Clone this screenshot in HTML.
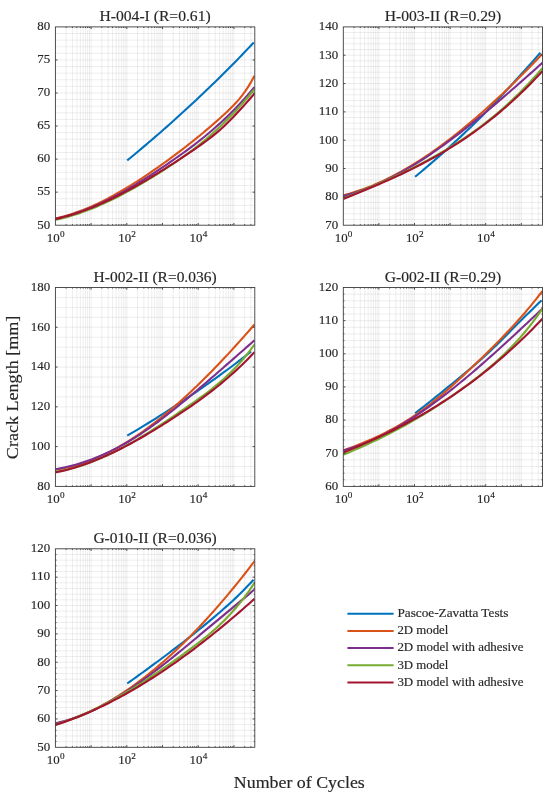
<!DOCTYPE html>
<html lang="en"><head><meta charset="utf-8"><title>Crack Length vs Number of Cycles</title>
<style>html,body{margin:0;padding:0;background:#fff}body{width:550px;height:795px;overflow:hidden}svg{display:block;font-family:'Liberation Serif', 'DejaVu Serif', serif}text{white-space:pre;stroke:#262626;stroke-width:0.16px;paint-order:stroke fill}</style></head><body>
<svg width="550" height="795" viewBox="0 0 550 795" font-family='"Liberation Serif", "DejaVu Serif", serif'>
<rect width="550" height="795" fill="#ffffff"/>
<g>
<rect x="55.4" y="26.9" width="199.4" height="198.3" fill="#ffffff"/>
<path d="M55.4 218.59H254.8M55.4 211.98H254.8M55.4 205.37H254.8M55.4 198.76H254.8M55.4 192.15H254.8M55.4 185.54H254.8M55.4 178.93H254.8M55.4 172.32H254.8M55.4 165.71H254.8M55.4 159.1H254.8M55.4 152.49H254.8M55.4 145.88H254.8M55.4 139.27H254.8M55.4 132.66H254.8M55.4 126.05H254.8M55.4 119.44H254.8M55.4 112.83H254.8M55.4 106.22H254.8M55.4 99.61H254.8M55.4 93H254.8M55.4 86.39H254.8M55.4 79.78H254.8M55.4 73.17H254.8M55.4 66.56H254.8M55.4 59.95H254.8M55.4 53.34H254.8M55.4 46.73H254.8M55.4 40.12H254.8M55.4 33.51H254.8" stroke="#202020" stroke-opacity="0.125" stroke-width="0.65" fill="none"/>
<path d="M66.15 26.9V225.2M72.43 26.9V225.2M76.89 26.9V225.2M80.35 26.9V225.2M83.18 26.9V225.2M85.57 26.9V225.2M87.64 26.9V225.2M89.47 26.9V225.2M91.1 26.9V225.2M101.85 26.9V225.2M108.13 26.9V225.2M112.59 26.9V225.2M116.05 26.9V225.2M118.88 26.9V225.2M121.27 26.9V225.2M123.34 26.9V225.2M125.17 26.9V225.2M126.8 26.9V225.2M137.55 26.9V225.2M143.83 26.9V225.2M148.29 26.9V225.2M151.75 26.9V225.2M154.58 26.9V225.2M156.97 26.9V225.2M159.04 26.9V225.2M160.87 26.9V225.2M162.5 26.9V225.2M173.25 26.9V225.2M179.53 26.9V225.2M183.99 26.9V225.2M187.45 26.9V225.2M190.28 26.9V225.2M192.67 26.9V225.2M194.74 26.9V225.2M196.57 26.9V225.2M198.2 26.9V225.2M208.95 26.9V225.2M215.23 26.9V225.2M219.69 26.9V225.2M223.15 26.9V225.2M225.98 26.9V225.2M228.37 26.9V225.2M230.44 26.9V225.2M232.27 26.9V225.2M233.9 26.9V225.2M244.65 26.9V225.2M250.93 26.9V225.2" stroke="#202020" stroke-opacity="0.125" stroke-width="0.65" fill="none"/>
<clipPath id="c1"><rect x="55.4" y="26.9" width="199.4" height="198.3"/></clipPath>
<g clip-path="url(#c1)" fill="none" stroke-width="2.1" stroke-linejoin="round" stroke-linecap="butt">
<path d="M127.2 160.42L130.21 157.95L133.23 155.47L136.24 152.97L139.25 150.45L142.27 147.91L145.28 145.37L148.29 142.81L151.3 140.24L154.32 137.66L157.33 135.06L160.34 132.44L163.36 129.79L166.37 127.13L169.38 124.45L172.4 121.75L175.41 119.04L178.42 116.32L181.43 113.58L184.45 110.82L187.46 108.05L190.47 105.27L193.49 102.47L196.5 99.65L199.51 96.81L202.53 93.96L205.54 91.1L208.55 88.22L211.56 85.33L214.58 82.42L217.59 79.49L220.6 76.54L223.62 73.57L226.63 70.58L229.64 67.57L232.66 64.54L235.67 61.48L238.68 58.39L241.7 55.25L244.71 52.09L247.72 48.89L250.73 45.67L253.75 42.43" stroke="#0072bd"/>
<path d="M55.4 218.46L58.42 217.77L61.43 217.02L64.45 216.2L67.46 215.33L70.48 214.4L73.5 213.41L76.51 212.36L79.53 211.26L82.55 210.11L85.56 208.91L88.58 207.65L91.59 206.34L94.61 204.99L97.63 203.59L100.64 202.14L103.66 200.64L106.67 199.1L109.69 197.52L112.71 195.89L115.72 194.23L118.74 192.52L121.76 190.78L124.77 189L127.79 187.18L130.8 185.33L133.82 183.45L136.84 181.53L139.85 179.58L142.87 177.6L145.88 175.59L148.9 173.56L151.92 171.49L154.93 169.4L157.95 167.29L160.97 165.15L163.98 162.99L167 160.81L170.01 158.61L173.03 156.39L176.05 154.14L179.06 151.86L182.08 149.56L185.09 147.24L188.11 144.89L191.13 142.51L194.14 140.1L197.16 137.66L200.17 135.19L203.19 132.69L206.21 130.16L209.22 127.6L212.24 125L215.26 122.36L218.27 119.7L221.29 116.99L224.3 114.25L227.32 111.46L230.34 108.58L233.35 105.55L236.37 102.32L239.38 98.84L242.4 95.06L245.42 90.92L248.43 86.37L251.45 81.36L254.47 75.84" stroke="#d95319"/>
<path d="M55.4 218.92L58.42 218.25L61.43 217.53L64.45 216.75L67.46 215.92L70.48 215.03L73.5 214.08L76.51 213.09L79.53 212.04L82.55 210.94L85.56 209.79L88.58 208.59L91.59 207.35L94.61 206.06L97.63 204.72L100.64 203.34L103.66 201.92L106.67 200.46L109.69 198.95L112.71 197.41L115.72 195.83L118.74 194.21L121.76 192.56L124.77 190.87L127.79 189.15L130.8 187.4L133.82 185.62L136.84 183.8L139.85 181.96L142.87 180.09L145.88 178.19L148.9 176.27L151.92 174.32L154.93 172.35L157.95 170.36L160.97 168.35L163.98 166.32L167 164.27L170.01 162.2L173.03 160.12L176.05 158.01L179.06 155.89L182.08 153.73L185.09 151.55L188.11 149.34L191.13 147.1L194.14 144.82L197.16 142.49L200.17 140.13L203.19 137.72L206.21 135.27L209.22 132.76L212.24 130.2L215.26 127.58L218.27 124.9L221.29 122.16L224.3 119.36L227.32 116.49L230.34 113.54L233.35 110.53L236.37 107.43L239.38 104.26L242.4 101.01L245.42 97.67L248.43 94.24L251.45 90.72L254.47 87.11" stroke="#7e2f8e"/>
<path d="M55.4 219.74L58.42 219.1L61.43 218.41L64.45 217.66L67.46 216.87L70.48 216.01L73.5 215.11L76.51 214.16L79.53 213.15L82.55 212.11L85.56 211.01L88.58 209.87L91.59 208.68L94.61 207.45L97.63 206.18L100.64 204.87L103.66 203.52L106.67 202.12L109.69 200.7L112.71 199.23L115.72 197.73L118.74 196.2L121.76 194.63L124.77 193.03L127.79 191.4L130.8 189.74L133.82 188.05L136.84 186.33L139.85 184.59L142.87 182.82L145.88 181.03L148.9 179.21L151.92 177.38L154.93 175.52L157.95 173.64L160.97 171.74L163.98 169.82L167 167.87L170.01 165.89L173.03 163.88L176.05 161.83L179.06 159.75L182.08 157.63L185.09 155.47L188.11 153.26L191.13 151.01L194.14 148.72L197.16 146.37L200.17 143.97L203.19 141.51L206.21 139L209.22 136.42L212.24 133.79L215.26 131.09L218.27 128.32L221.29 125.49L224.3 122.58L227.32 119.6L230.34 116.54L233.35 113.4L236.37 110.18L239.38 106.88L242.4 103.49L245.42 100.02L248.43 96.45L251.45 92.79L254.47 89.04" stroke="#77ac30"/>
<path d="M55.4 219.06L58.42 218.37L61.43 217.63L64.45 216.84L67.46 216L70.48 215.12L73.5 214.19L76.51 213.21L79.53 212.19L82.55 211.12L85.56 210.02L88.58 208.87L91.59 207.68L94.61 206.45L97.63 205.18L100.64 203.87L103.66 202.53L106.67 201.15L109.69 199.74L112.71 198.29L115.72 196.81L118.74 195.29L121.76 193.75L124.77 192.17L127.79 190.56L130.8 188.93L133.82 187.27L136.84 185.58L139.85 183.86L142.87 182.12L145.88 180.36L148.9 178.57L151.92 176.76L154.93 174.93L157.95 173.08L160.97 171.21L163.98 169.32L167 167.41L170.01 165.48L173.03 163.54L176.05 161.59L179.06 159.62L182.08 157.63L185.09 155.64L188.11 153.63L191.13 151.61L194.14 149.57L197.16 147.5L200.17 145.38L203.19 143.22L206.21 141L209.22 138.71L212.24 136.34L215.26 133.88L218.27 131.33L221.29 128.68L224.3 125.91L227.32 123.02L230.34 120.03L233.35 116.93L236.37 113.75L239.38 110.5L242.4 107.19L245.42 103.84L248.43 100.44L251.45 97.03L254.47 93.6" stroke="#a2142f"/>
</g>
<rect x="55.4" y="26.9" width="199.4" height="198.3" fill="none" stroke="#3c3c3c" stroke-width="0.9"/>
<path d="M66.15 225.2v-1.1M66.15 26.9v1.1M72.43 225.2v-1.1M72.43 26.9v1.1M76.89 225.2v-1.1M76.89 26.9v1.1M80.35 225.2v-1.1M80.35 26.9v1.1M83.18 225.2v-1.1M83.18 26.9v1.1M85.57 225.2v-1.1M85.57 26.9v1.1M87.64 225.2v-1.1M87.64 26.9v1.1M89.47 225.2v-1.1M89.47 26.9v1.1M91.1 225.2v-2.2M91.1 26.9v2.2M101.85 225.2v-1.1M101.85 26.9v1.1M108.13 225.2v-1.1M108.13 26.9v1.1M112.59 225.2v-1.1M112.59 26.9v1.1M116.05 225.2v-1.1M116.05 26.9v1.1M118.88 225.2v-1.1M118.88 26.9v1.1M121.27 225.2v-1.1M121.27 26.9v1.1M123.34 225.2v-1.1M123.34 26.9v1.1M125.17 225.2v-1.1M125.17 26.9v1.1M126.8 225.2v-2.2M126.8 26.9v2.2M137.55 225.2v-1.1M137.55 26.9v1.1M143.83 225.2v-1.1M143.83 26.9v1.1M148.29 225.2v-1.1M148.29 26.9v1.1M151.75 225.2v-1.1M151.75 26.9v1.1M154.58 225.2v-1.1M154.58 26.9v1.1M156.97 225.2v-1.1M156.97 26.9v1.1M159.04 225.2v-1.1M159.04 26.9v1.1M160.87 225.2v-1.1M160.87 26.9v1.1M162.5 225.2v-2.2M162.5 26.9v2.2M173.25 225.2v-1.1M173.25 26.9v1.1M179.53 225.2v-1.1M179.53 26.9v1.1M183.99 225.2v-1.1M183.99 26.9v1.1M187.45 225.2v-1.1M187.45 26.9v1.1M190.28 225.2v-1.1M190.28 26.9v1.1M192.67 225.2v-1.1M192.67 26.9v1.1M194.74 225.2v-1.1M194.74 26.9v1.1M196.57 225.2v-1.1M196.57 26.9v1.1M198.2 225.2v-2.2M198.2 26.9v2.2M208.95 225.2v-1.1M208.95 26.9v1.1M215.23 225.2v-1.1M215.23 26.9v1.1M219.69 225.2v-1.1M219.69 26.9v1.1M223.15 225.2v-1.1M223.15 26.9v1.1M225.98 225.2v-1.1M225.98 26.9v1.1M228.37 225.2v-1.1M228.37 26.9v1.1M230.44 225.2v-1.1M230.44 26.9v1.1M232.27 225.2v-1.1M232.27 26.9v1.1M233.9 225.2v-2.2M233.9 26.9v2.2M244.65 225.2v-1.1M244.65 26.9v1.1M250.93 225.2v-1.1M250.93 26.9v1.1M55.4 192.15h2.2M254.8 192.15h-2.2M55.4 159.1h2.2M254.8 159.1h-2.2M55.4 126.05h2.2M254.8 126.05h-2.2M55.4 93h2.2M254.8 93h-2.2M55.4 59.95h2.2M254.8 59.95h-2.2" stroke="#3c3c3c" stroke-width="0.9" fill="none"/>
<g font-size="13.3" fill="#262626">
<text x="50.2" y="228.5" text-anchor="end" textLength="12.9" lengthAdjust="spacingAndGlyphs">50</text>
<text x="50.2" y="195.45" text-anchor="end" textLength="12.9" lengthAdjust="spacingAndGlyphs">55</text>
<text x="50.2" y="162.4" text-anchor="end" textLength="12.9" lengthAdjust="spacingAndGlyphs">60</text>
<text x="50.2" y="129.35" text-anchor="end" textLength="12.9" lengthAdjust="spacingAndGlyphs">65</text>
<text x="50.2" y="96.3" text-anchor="end" textLength="12.9" lengthAdjust="spacingAndGlyphs">70</text>
<text x="50.2" y="63.25" text-anchor="end" textLength="12.9" lengthAdjust="spacingAndGlyphs">75</text>
<text x="50.2" y="30.2" text-anchor="end" textLength="12.9" lengthAdjust="spacingAndGlyphs">80</text>
<text x="59.7" y="242.1" text-anchor="end" font-size="13.5" textLength="12.9" lengthAdjust="spacingAndGlyphs">10</text>
<text x="59.9" y="236.6" font-size="9.2">0</text>
<text x="131.1" y="242.1" text-anchor="end" font-size="13.5" textLength="12.9" lengthAdjust="spacingAndGlyphs">10</text>
<text x="131.3" y="236.6" font-size="9.2">2</text>
<text x="202.5" y="242.1" text-anchor="end" font-size="13.5" textLength="12.9" lengthAdjust="spacingAndGlyphs">10</text>
<text x="202.7" y="236.6" font-size="9.2">4</text>
</g>
<text x="155.1" y="21" text-anchor="middle" font-size="15.3" fill="#262626" textLength="111.2" lengthAdjust="spacingAndGlyphs">H-004-I (R=0.61)</text>
</g>
<g>
<rect x="343.3" y="26.9" width="199.2" height="198.3" fill="#ffffff"/>
<path d="M343.3 219.53H542.5M343.3 213.87H542.5M343.3 208.2H542.5M343.3 202.54H542.5M343.3 196.87H542.5M343.3 191.21H542.5M343.3 185.54H542.5M343.3 179.87H542.5M343.3 174.21H542.5M343.3 168.54H542.5M343.3 162.88H542.5M343.3 157.21H542.5M343.3 151.55H542.5M343.3 145.88H542.5M343.3 140.21H542.5M343.3 134.55H542.5M343.3 128.88H542.5M343.3 123.22H542.5M343.3 117.55H542.5M343.3 111.89H542.5M343.3 106.22H542.5M343.3 100.55H542.5M343.3 94.89H542.5M343.3 89.22H542.5M343.3 83.56H542.5M343.3 77.89H542.5M343.3 72.23H542.5M343.3 66.56H542.5M343.3 60.89H542.5M343.3 55.23H542.5M343.3 49.56H542.5M343.3 43.9H542.5M343.3 38.23H542.5M343.3 32.57H542.5" stroke="#202020" stroke-opacity="0.125" stroke-width="0.65" fill="none"/>
<path d="M354.02 26.9V225.2M360.29 26.9V225.2M364.73 26.9V225.2M368.18 26.9V225.2M371 26.9V225.2M373.39 26.9V225.2M375.45 26.9V225.2M377.27 26.9V225.2M378.9 26.9V225.2M389.62 26.9V225.2M395.89 26.9V225.2M400.33 26.9V225.2M403.78 26.9V225.2M406.6 26.9V225.2M408.99 26.9V225.2M411.05 26.9V225.2M412.87 26.9V225.2M414.5 26.9V225.2M425.22 26.9V225.2M431.49 26.9V225.2M435.93 26.9V225.2M439.38 26.9V225.2M442.2 26.9V225.2M444.59 26.9V225.2M446.65 26.9V225.2M448.47 26.9V225.2M450.1 26.9V225.2M460.82 26.9V225.2M467.09 26.9V225.2M471.53 26.9V225.2M474.98 26.9V225.2M477.8 26.9V225.2M480.19 26.9V225.2M482.25 26.9V225.2M484.07 26.9V225.2M485.7 26.9V225.2M496.42 26.9V225.2M502.69 26.9V225.2M507.13 26.9V225.2M510.58 26.9V225.2M513.4 26.9V225.2M515.79 26.9V225.2M517.85 26.9V225.2M519.67 26.9V225.2M521.3 26.9V225.2M532.02 26.9V225.2M538.29 26.9V225.2" stroke="#202020" stroke-opacity="0.125" stroke-width="0.65" fill="none"/>
<clipPath id="c2"><rect x="343.3" y="26.9" width="199.2" height="198.3"/></clipPath>
<g clip-path="url(#c2)" fill="none" stroke-width="2.1" stroke-linejoin="round" stroke-linecap="butt">
<path d="M415.1 176.76L418.16 174.24L421.21 171.69L424.27 169.12L427.32 166.52L430.38 163.9L433.44 161.26L436.49 158.59L439.55 155.89L442.6 153.18L445.66 150.44L448.71 147.68L451.77 144.89L454.83 142.08L457.88 139.25L460.94 136.39L463.99 133.51L467.05 130.6L470.11 127.66L473.16 124.7L476.22 121.71L479.27 118.69L482.33 115.64L485.39 112.57L488.44 109.47L491.5 106.32L494.55 103.14L497.61 99.92L500.66 96.66L503.72 93.38L506.78 90.08L509.83 86.76L512.89 83.41L515.94 80.06L519 76.7L522.06 73.33L525.11 69.95L528.17 66.54L531.22 63.11L534.28 59.65L537.34 56.17L540.39 52.68" stroke="#0072bd"/>
<path d="M343.3 195.36L346.32 194.56L349.33 193.71L352.35 192.82L355.36 191.87L358.38 190.87L361.4 189.82L364.41 188.72L367.43 187.57L370.45 186.37L373.46 185.13L376.48 183.83L379.49 182.5L382.51 181.11L385.53 179.68L388.54 178.2L391.56 176.68L394.57 175.11L397.59 173.5L400.61 171.85L403.62 170.15L406.64 168.41L409.66 166.63L412.67 164.81L415.69 162.94L418.7 161.04L421.72 159.09L424.74 157.11L427.75 155.09L430.77 153.02L433.78 150.92L436.8 148.78L439.82 146.61L442.83 144.39L445.85 142.15L448.87 139.86L451.88 137.54L454.9 135.19L457.91 132.8L460.93 130.37L463.95 127.92L466.96 125.43L469.98 122.91L472.99 120.35L476.01 117.77L479.03 115.15L482.04 112.51L485.06 109.83L488.07 107.12L491.09 104.39L494.11 101.62L497.12 98.83L500.14 96.01L503.16 93.17L506.17 90.29L509.19 87.4L512.2 84.47L515.22 81.52L518.24 78.55L521.25 75.55L524.27 72.53L527.28 69.48L530.3 66.41L533.32 63.32L536.33 60.21L539.35 57.08L542.37 53.92" stroke="#d95319"/>
<path d="M343.3 195.94L346.32 195.18L349.33 194.36L352.35 193.49L355.36 192.56L358.38 191.58L361.4 190.54L364.41 189.45L367.43 188.31L370.45 187.13L373.46 185.89L376.48 184.6L379.49 183.26L382.51 181.88L385.53 180.45L388.54 178.98L391.56 177.46L394.57 175.89L397.59 174.29L400.61 172.64L403.62 170.95L406.64 169.22L409.66 167.45L412.67 165.64L415.69 163.79L418.7 161.91L421.72 159.99L424.74 158.03L427.75 156.04L430.77 154.01L433.78 151.96L436.8 149.87L439.82 147.74L442.83 145.59L445.85 143.41L448.87 141.2L451.88 138.96L454.9 136.69L457.91 134.4L460.93 132.08L463.95 129.74L466.96 127.38L469.98 124.99L472.99 122.57L476.01 120.14L479.03 117.69L482.04 115.21L485.06 112.72L488.07 110.21L491.09 107.68L494.11 105.14L497.12 102.58L500.14 100.01L503.16 97.42L506.17 94.82L509.19 92.2L512.2 89.58L515.22 86.94L518.24 84.3L521.25 81.64L524.27 78.98L527.28 76.31L530.3 73.63L533.32 70.95L536.33 68.26L539.35 65.57L542.37 62.88" stroke="#7e2f8e"/>
<path d="M343.3 198.36L346.32 197.15L349.33 195.93L352.35 194.72L355.36 193.49L358.38 192.26L361.4 191.02L364.41 189.77L367.43 188.52L370.45 187.25L373.46 185.98L376.48 184.69L379.49 183.38L382.51 182.07L385.53 180.74L388.54 179.4L391.56 178.04L394.57 176.66L397.59 175.26L400.61 173.85L403.62 172.42L406.64 170.97L409.66 169.49L412.67 168L415.69 166.48L418.7 164.94L421.72 163.37L424.74 161.78L427.75 160.16L430.77 158.52L433.78 156.84L436.8 155.14L439.82 153.41L442.83 151.65L445.85 149.86L448.87 148.04L451.88 146.18L454.9 144.29L457.91 142.36L460.93 140.4L463.95 138.4L466.96 136.36L469.98 134.28L472.99 132.15L476.01 129.99L479.03 127.77L482.04 125.51L485.06 123.2L488.07 120.84L491.09 118.43L494.11 115.97L497.12 113.45L500.14 110.87L503.16 108.24L506.17 105.55L509.19 102.8L512.2 99.99L515.22 97.12L518.24 94.18L521.25 91.17L524.27 88.1L527.28 84.96L530.3 81.74L533.32 78.46L536.33 75.1L539.35 71.67L542.37 68.16" stroke="#77ac30"/>
<path d="M343.3 198.92L346.32 197.71L349.33 196.49L352.35 195.27L355.36 194.04L358.38 192.81L361.4 191.57L364.41 190.32L367.43 189.06L370.45 187.8L373.46 186.52L376.48 185.24L379.49 183.94L382.51 182.63L385.53 181.3L388.54 179.96L391.56 178.61L394.57 177.24L397.59 175.85L400.61 174.44L403.62 173.02L406.64 171.57L409.66 170.1L412.67 168.61L415.69 167.1L418.7 165.57L421.72 164L424.74 162.42L427.75 160.81L430.77 159.17L433.78 157.5L436.8 155.8L439.82 154.08L442.83 152.32L445.85 150.53L448.87 148.71L451.88 146.85L454.9 144.96L457.91 143.04L460.93 141.08L463.95 139.08L466.96 137.04L469.98 134.97L472.99 132.85L476.01 130.69L479.03 128.5L482.04 126.26L485.06 123.97L488.07 121.64L491.09 119.27L494.11 116.85L497.12 114.38L500.14 111.87L503.16 109.31L506.17 106.69L509.19 104.03L512.2 101.31L515.22 98.54L518.24 95.72L521.25 92.85L524.27 89.92L527.28 86.93L530.3 83.89L533.32 80.79L536.33 77.63L539.35 74.41L542.37 71.12" stroke="#a2142f"/>
</g>
<rect x="343.3" y="26.9" width="199.2" height="198.3" fill="none" stroke="#3c3c3c" stroke-width="0.9"/>
<path d="M354.02 225.2v-1.1M354.02 26.9v1.1M360.29 225.2v-1.1M360.29 26.9v1.1M364.73 225.2v-1.1M364.73 26.9v1.1M368.18 225.2v-1.1M368.18 26.9v1.1M371 225.2v-1.1M371 26.9v1.1M373.39 225.2v-1.1M373.39 26.9v1.1M375.45 225.2v-1.1M375.45 26.9v1.1M377.27 225.2v-1.1M377.27 26.9v1.1M378.9 225.2v-2.2M378.9 26.9v2.2M389.62 225.2v-1.1M389.62 26.9v1.1M395.89 225.2v-1.1M395.89 26.9v1.1M400.33 225.2v-1.1M400.33 26.9v1.1M403.78 225.2v-1.1M403.78 26.9v1.1M406.6 225.2v-1.1M406.6 26.9v1.1M408.99 225.2v-1.1M408.99 26.9v1.1M411.05 225.2v-1.1M411.05 26.9v1.1M412.87 225.2v-1.1M412.87 26.9v1.1M414.5 225.2v-2.2M414.5 26.9v2.2M425.22 225.2v-1.1M425.22 26.9v1.1M431.49 225.2v-1.1M431.49 26.9v1.1M435.93 225.2v-1.1M435.93 26.9v1.1M439.38 225.2v-1.1M439.38 26.9v1.1M442.2 225.2v-1.1M442.2 26.9v1.1M444.59 225.2v-1.1M444.59 26.9v1.1M446.65 225.2v-1.1M446.65 26.9v1.1M448.47 225.2v-1.1M448.47 26.9v1.1M450.1 225.2v-2.2M450.1 26.9v2.2M460.82 225.2v-1.1M460.82 26.9v1.1M467.09 225.2v-1.1M467.09 26.9v1.1M471.53 225.2v-1.1M471.53 26.9v1.1M474.98 225.2v-1.1M474.98 26.9v1.1M477.8 225.2v-1.1M477.8 26.9v1.1M480.19 225.2v-1.1M480.19 26.9v1.1M482.25 225.2v-1.1M482.25 26.9v1.1M484.07 225.2v-1.1M484.07 26.9v1.1M485.7 225.2v-2.2M485.7 26.9v2.2M496.42 225.2v-1.1M496.42 26.9v1.1M502.69 225.2v-1.1M502.69 26.9v1.1M507.13 225.2v-1.1M507.13 26.9v1.1M510.58 225.2v-1.1M510.58 26.9v1.1M513.4 225.2v-1.1M513.4 26.9v1.1M515.79 225.2v-1.1M515.79 26.9v1.1M517.85 225.2v-1.1M517.85 26.9v1.1M519.67 225.2v-1.1M519.67 26.9v1.1M521.3 225.2v-2.2M521.3 26.9v2.2M532.02 225.2v-1.1M532.02 26.9v1.1M538.29 225.2v-1.1M538.29 26.9v1.1M343.3 196.87h2.2M542.5 196.87h-2.2M343.3 168.54h2.2M542.5 168.54h-2.2M343.3 140.21h2.2M542.5 140.21h-2.2M343.3 111.89h2.2M542.5 111.89h-2.2M343.3 83.56h2.2M542.5 83.56h-2.2M343.3 55.23h2.2M542.5 55.23h-2.2" stroke="#3c3c3c" stroke-width="0.9" fill="none"/>
<g font-size="13.3" fill="#262626">
<text x="338.1" y="228.5" text-anchor="end" textLength="12.9" lengthAdjust="spacingAndGlyphs">70</text>
<text x="338.1" y="200.17" text-anchor="end" textLength="12.9" lengthAdjust="spacingAndGlyphs">80</text>
<text x="338.1" y="171.84" text-anchor="end" textLength="12.9" lengthAdjust="spacingAndGlyphs">90</text>
<text x="338.1" y="143.51" text-anchor="end" textLength="19.35" lengthAdjust="spacingAndGlyphs">100</text>
<text x="338.1" y="115.19" text-anchor="end" textLength="19.35" lengthAdjust="spacingAndGlyphs">110</text>
<text x="338.1" y="86.86" text-anchor="end" textLength="19.35" lengthAdjust="spacingAndGlyphs">120</text>
<text x="338.1" y="58.53" text-anchor="end" textLength="19.35" lengthAdjust="spacingAndGlyphs">130</text>
<text x="338.1" y="30.2" text-anchor="end" textLength="19.35" lengthAdjust="spacingAndGlyphs">140</text>
<text x="347.6" y="242.1" text-anchor="end" font-size="13.5" textLength="12.9" lengthAdjust="spacingAndGlyphs">10</text>
<text x="347.8" y="236.6" font-size="9.2">0</text>
<text x="418.8" y="242.1" text-anchor="end" font-size="13.5" textLength="12.9" lengthAdjust="spacingAndGlyphs">10</text>
<text x="419" y="236.6" font-size="9.2">2</text>
<text x="490" y="242.1" text-anchor="end" font-size="13.5" textLength="12.9" lengthAdjust="spacingAndGlyphs">10</text>
<text x="490.2" y="236.6" font-size="9.2">4</text>
</g>
<text x="442.9" y="21" text-anchor="middle" font-size="15.3" fill="#262626" textLength="116.4" lengthAdjust="spacingAndGlyphs">H-003-II (R=0.29)</text>
</g>
<g>
<rect x="55.4" y="287.5" width="199.4" height="198.9" fill="#ffffff"/>
<path d="M55.4 476.45H254.8M55.4 466.51H254.8M55.4 456.56H254.8M55.4 446.62H254.8M55.4 436.67H254.8M55.4 426.73H254.8M55.4 416.78H254.8M55.4 406.84H254.8M55.4 396.89H254.8M55.4 386.95H254.8M55.4 377H254.8M55.4 367.06H254.8M55.4 357.12H254.8M55.4 347.17H254.8M55.4 337.23H254.8M55.4 327.28H254.8M55.4 317.33H254.8M55.4 307.39H254.8M55.4 297.44H254.8" stroke="#202020" stroke-opacity="0.125" stroke-width="0.65" fill="none"/>
<path d="M66.15 287.5V486.4M72.43 287.5V486.4M76.89 287.5V486.4M80.35 287.5V486.4M83.18 287.5V486.4M85.57 287.5V486.4M87.64 287.5V486.4M89.47 287.5V486.4M91.1 287.5V486.4M101.85 287.5V486.4M108.13 287.5V486.4M112.59 287.5V486.4M116.05 287.5V486.4M118.88 287.5V486.4M121.27 287.5V486.4M123.34 287.5V486.4M125.17 287.5V486.4M126.8 287.5V486.4M137.55 287.5V486.4M143.83 287.5V486.4M148.29 287.5V486.4M151.75 287.5V486.4M154.58 287.5V486.4M156.97 287.5V486.4M159.04 287.5V486.4M160.87 287.5V486.4M162.5 287.5V486.4M173.25 287.5V486.4M179.53 287.5V486.4M183.99 287.5V486.4M187.45 287.5V486.4M190.28 287.5V486.4M192.67 287.5V486.4M194.74 287.5V486.4M196.57 287.5V486.4M198.2 287.5V486.4M208.95 287.5V486.4M215.23 287.5V486.4M219.69 287.5V486.4M223.15 287.5V486.4M225.98 287.5V486.4M228.37 287.5V486.4M230.44 287.5V486.4M232.27 287.5V486.4M233.9 287.5V486.4M244.65 287.5V486.4M250.93 287.5V486.4" stroke="#202020" stroke-opacity="0.125" stroke-width="0.65" fill="none"/>
<clipPath id="c3"><rect x="55.4" y="287.5" width="199.4" height="198.9"/></clipPath>
<g clip-path="url(#c3)" fill="none" stroke-width="2.1" stroke-linejoin="round" stroke-linecap="butt">
<path d="M127.2 435.68L130.22 433.91L133.25 432.13L136.27 430.34L139.29 428.53L142.31 426.71L145.34 424.87L148.36 423.02L151.38 421.16L154.4 419.28L157.43 417.39L160.45 415.48L163.47 413.57L166.49 411.63L169.52 409.69L172.54 407.72L175.56 405.75L178.58 403.75L181.61 401.75L184.63 399.72L187.65 397.69L190.67 395.64L193.7 393.58L196.72 391.51L199.74 389.42L202.77 387.32L205.79 385.21L208.81 383.08L211.83 380.94L214.86 378.78L217.88 376.61L220.9 374.42L223.92 372.22L226.95 370L229.97 367.76L232.99 365.51L236.01 363.24L239.04 360.93L242.06 358.6L245.08 356.23L248.1 353.85L251.13 351.45" stroke="#0072bd"/>
<path d="M55.4 469.65L58.42 469.22L61.43 468.72L64.45 468.15L67.46 467.52L70.48 466.82L73.5 466.05L76.51 465.21L79.53 464.31L82.55 463.34L85.56 462.31L88.58 461.21L91.59 460.06L94.61 458.84L97.63 457.56L100.64 456.22L103.66 454.82L106.67 453.36L109.69 451.84L112.71 450.26L115.72 448.63L118.74 446.94L121.76 445.2L124.77 443.4L127.79 441.54L130.8 439.64L133.82 437.68L136.84 435.67L139.85 433.61L142.87 431.49L145.88 429.33L148.9 427.12L151.92 424.86L154.93 422.56L157.95 420.2L160.97 417.81L163.98 415.36L167 412.87L170.01 410.34L173.03 407.76L176.05 405.15L179.06 402.49L182.08 399.78L185.09 397.04L188.11 394.26L191.13 391.44L194.14 388.59L197.16 385.69L200.17 382.76L203.19 379.79L206.21 376.79L209.22 373.75L212.24 370.68L215.26 367.58L218.27 364.44L221.29 361.28L224.3 358.08L227.32 354.85L230.34 351.59L233.35 348.31L236.37 344.99L239.38 341.65L242.4 338.28L245.42 334.89L248.43 331.47L251.45 328.03L254.47 324.56" stroke="#d95319"/>
<path d="M55.4 469.28L58.42 468.74L61.43 468.15L64.45 467.5L67.46 466.81L70.48 466.06L73.5 465.27L76.51 464.42L79.53 463.51L82.55 462.56L85.56 461.56L88.58 460.5L91.59 459.39L94.61 458.23L97.63 457.02L100.64 455.75L103.66 454.44L106.67 453.06L109.69 451.64L112.71 450.17L115.72 448.64L118.74 447.06L121.76 445.42L124.77 443.74L127.79 442L130.8 440.21L133.82 438.36L136.84 436.46L139.85 434.51L142.87 432.5L145.88 430.45L148.9 428.35L151.92 426.2L154.93 424.01L157.95 421.79L160.97 419.52L163.98 417.22L167 414.89L170.01 412.52L173.03 410.13L176.05 407.71L179.06 405.27L182.08 402.81L185.09 400.33L188.11 397.83L191.13 395.31L194.14 392.77L197.16 390.23L200.17 387.66L203.19 385.09L206.21 382.5L209.22 379.91L212.24 377.3L215.26 374.68L218.27 372.06L221.29 369.43L224.3 366.8L227.32 364.16L230.34 361.52L233.35 358.88L236.37 356.23L239.38 353.57L242.4 350.92L245.42 348.26L248.43 345.59L251.45 342.93L254.47 340.26" stroke="#7e2f8e"/>
<path d="M55.4 471.87L58.42 471.38L61.43 470.82L64.45 470.2L67.46 469.52L70.48 468.77L73.5 467.97L76.51 467.1L79.53 466.18L82.55 465.21L85.56 464.18L88.58 463.09L91.59 461.95L94.61 460.77L97.63 459.53L100.64 458.25L103.66 456.91L106.67 455.54L109.69 454.12L112.71 452.66L115.72 451.15L118.74 449.61L121.76 448.03L124.77 446.41L127.79 444.75L130.8 443.06L133.82 441.34L136.84 439.59L139.85 437.8L142.87 435.99L145.88 434.15L148.9 432.28L151.92 430.39L154.93 428.47L157.95 426.53L160.97 424.57L163.98 422.59L167 420.59L170.01 418.58L173.03 416.55L176.05 414.51L179.06 412.45L182.08 410.38L185.09 408.3L188.11 406.21L191.13 404.12L194.14 402.01L197.16 399.87L200.17 397.71L203.19 395.51L206.21 393.26L209.22 390.97L212.24 388.61L215.26 386.18L218.27 383.68L221.29 381.09L224.3 378.41L227.32 375.64L230.34 372.75L233.35 369.76L236.37 366.63L239.38 363.37L242.4 359.95L245.42 356.37L248.43 352.62L251.45 348.67L254.47 344.52" stroke="#77ac30"/>
<path d="M55.4 472.4L58.42 471.79L61.43 471.13L64.45 470.41L67.46 469.65L70.48 468.83L73.5 467.97L76.51 467.05L79.53 466.09L82.55 465.09L85.56 464.04L88.58 462.94L91.59 461.8L94.61 460.62L97.63 459.4L100.64 458.14L103.66 456.84L106.67 455.49L109.69 454.12L112.71 452.7L115.72 451.25L118.74 449.77L121.76 448.25L124.77 446.69L127.79 445.11L130.8 443.5L133.82 441.85L136.84 440.18L139.85 438.47L142.87 436.75L145.88 434.99L148.9 433.21L151.92 431.4L154.93 429.57L157.95 427.72L160.97 425.85L163.98 423.96L167 422.04L170.01 420.11L173.03 418.16L176.05 416.2L179.06 414.21L182.08 412.21L185.09 410.19L188.11 408.14L191.13 406.06L194.14 403.96L197.16 401.82L200.17 399.65L203.19 397.44L206.21 395.2L209.22 392.92L212.24 390.59L215.26 388.21L218.27 385.79L221.29 383.32L224.3 380.79L227.32 378.21L230.34 375.58L233.35 372.88L236.37 370.12L239.38 367.29L242.4 364.4L245.42 361.44L248.43 358.41L251.45 355.3L254.47 352.11" stroke="#a2142f"/>
</g>
<rect x="55.4" y="287.5" width="199.4" height="198.9" fill="none" stroke="#3c3c3c" stroke-width="0.9"/>
<path d="M66.15 486.4v-1.1M66.15 287.5v1.1M72.43 486.4v-1.1M72.43 287.5v1.1M76.89 486.4v-1.1M76.89 287.5v1.1M80.35 486.4v-1.1M80.35 287.5v1.1M83.18 486.4v-1.1M83.18 287.5v1.1M85.57 486.4v-1.1M85.57 287.5v1.1M87.64 486.4v-1.1M87.64 287.5v1.1M89.47 486.4v-1.1M89.47 287.5v1.1M91.1 486.4v-2.2M91.1 287.5v2.2M101.85 486.4v-1.1M101.85 287.5v1.1M108.13 486.4v-1.1M108.13 287.5v1.1M112.59 486.4v-1.1M112.59 287.5v1.1M116.05 486.4v-1.1M116.05 287.5v1.1M118.88 486.4v-1.1M118.88 287.5v1.1M121.27 486.4v-1.1M121.27 287.5v1.1M123.34 486.4v-1.1M123.34 287.5v1.1M125.17 486.4v-1.1M125.17 287.5v1.1M126.8 486.4v-2.2M126.8 287.5v2.2M137.55 486.4v-1.1M137.55 287.5v1.1M143.83 486.4v-1.1M143.83 287.5v1.1M148.29 486.4v-1.1M148.29 287.5v1.1M151.75 486.4v-1.1M151.75 287.5v1.1M154.58 486.4v-1.1M154.58 287.5v1.1M156.97 486.4v-1.1M156.97 287.5v1.1M159.04 486.4v-1.1M159.04 287.5v1.1M160.87 486.4v-1.1M160.87 287.5v1.1M162.5 486.4v-2.2M162.5 287.5v2.2M173.25 486.4v-1.1M173.25 287.5v1.1M179.53 486.4v-1.1M179.53 287.5v1.1M183.99 486.4v-1.1M183.99 287.5v1.1M187.45 486.4v-1.1M187.45 287.5v1.1M190.28 486.4v-1.1M190.28 287.5v1.1M192.67 486.4v-1.1M192.67 287.5v1.1M194.74 486.4v-1.1M194.74 287.5v1.1M196.57 486.4v-1.1M196.57 287.5v1.1M198.2 486.4v-2.2M198.2 287.5v2.2M208.95 486.4v-1.1M208.95 287.5v1.1M215.23 486.4v-1.1M215.23 287.5v1.1M219.69 486.4v-1.1M219.69 287.5v1.1M223.15 486.4v-1.1M223.15 287.5v1.1M225.98 486.4v-1.1M225.98 287.5v1.1M228.37 486.4v-1.1M228.37 287.5v1.1M230.44 486.4v-1.1M230.44 287.5v1.1M232.27 486.4v-1.1M232.27 287.5v1.1M233.9 486.4v-2.2M233.9 287.5v2.2M244.65 486.4v-1.1M244.65 287.5v1.1M250.93 486.4v-1.1M250.93 287.5v1.1M55.4 446.62h2.2M254.8 446.62h-2.2M55.4 406.84h2.2M254.8 406.84h-2.2M55.4 367.06h2.2M254.8 367.06h-2.2M55.4 327.28h2.2M254.8 327.28h-2.2" stroke="#3c3c3c" stroke-width="0.9" fill="none"/>
<g font-size="13.3" fill="#262626">
<text x="50.2" y="489.7" text-anchor="end" textLength="12.9" lengthAdjust="spacingAndGlyphs">80</text>
<text x="50.2" y="449.92" text-anchor="end" textLength="19.35" lengthAdjust="spacingAndGlyphs">100</text>
<text x="50.2" y="410.14" text-anchor="end" textLength="19.35" lengthAdjust="spacingAndGlyphs">120</text>
<text x="50.2" y="370.36" text-anchor="end" textLength="19.35" lengthAdjust="spacingAndGlyphs">140</text>
<text x="50.2" y="330.58" text-anchor="end" textLength="19.35" lengthAdjust="spacingAndGlyphs">160</text>
<text x="50.2" y="290.8" text-anchor="end" textLength="19.35" lengthAdjust="spacingAndGlyphs">180</text>
<text x="59.7" y="503.3" text-anchor="end" font-size="13.5" textLength="12.9" lengthAdjust="spacingAndGlyphs">10</text>
<text x="59.9" y="497.8" font-size="9.2">0</text>
<text x="131.1" y="503.3" text-anchor="end" font-size="13.5" textLength="12.9" lengthAdjust="spacingAndGlyphs">10</text>
<text x="131.3" y="497.8" font-size="9.2">2</text>
<text x="202.5" y="503.3" text-anchor="end" font-size="13.5" textLength="12.9" lengthAdjust="spacingAndGlyphs">10</text>
<text x="202.7" y="497.8" font-size="9.2">4</text>
</g>
<text x="155.1" y="281.6" text-anchor="middle" font-size="15.3" fill="#262626" textLength="123" lengthAdjust="spacingAndGlyphs">H-002-II (R=0.036)</text>
</g>
<g>
<rect x="343.3" y="287.5" width="199.2" height="198.9" fill="#ffffff"/>
<path d="M343.3 479.77H542.5M343.3 473.14H542.5M343.3 466.51H542.5M343.3 459.88H542.5M343.3 453.25H542.5M343.3 446.62H542.5M343.3 439.99H542.5M343.3 433.36H542.5M343.3 426.73H542.5M343.3 420.1H542.5M343.3 413.47H542.5M343.3 406.84H542.5M343.3 400.21H542.5M343.3 393.58H542.5M343.3 386.95H542.5M343.3 380.32H542.5M343.3 373.69H542.5M343.3 367.06H542.5M343.3 360.43H542.5M343.3 353.8H542.5M343.3 347.17H542.5M343.3 340.54H542.5M343.3 333.91H542.5M343.3 327.28H542.5M343.3 320.65H542.5M343.3 314.02H542.5M343.3 307.39H542.5M343.3 300.76H542.5M343.3 294.13H542.5" stroke="#202020" stroke-opacity="0.125" stroke-width="0.65" fill="none"/>
<path d="M354.02 287.5V486.4M360.29 287.5V486.4M364.73 287.5V486.4M368.18 287.5V486.4M371 287.5V486.4M373.39 287.5V486.4M375.45 287.5V486.4M377.27 287.5V486.4M378.9 287.5V486.4M389.62 287.5V486.4M395.89 287.5V486.4M400.33 287.5V486.4M403.78 287.5V486.4M406.6 287.5V486.4M408.99 287.5V486.4M411.05 287.5V486.4M412.87 287.5V486.4M414.5 287.5V486.4M425.22 287.5V486.4M431.49 287.5V486.4M435.93 287.5V486.4M439.38 287.5V486.4M442.2 287.5V486.4M444.59 287.5V486.4M446.65 287.5V486.4M448.47 287.5V486.4M450.1 287.5V486.4M460.82 287.5V486.4M467.09 287.5V486.4M471.53 287.5V486.4M474.98 287.5V486.4M477.8 287.5V486.4M480.19 287.5V486.4M482.25 287.5V486.4M484.07 287.5V486.4M485.7 287.5V486.4M496.42 287.5V486.4M502.69 287.5V486.4M507.13 287.5V486.4M510.58 287.5V486.4M513.4 287.5V486.4M515.79 287.5V486.4M517.85 287.5V486.4M519.67 287.5V486.4M521.3 287.5V486.4M532.02 287.5V486.4M538.29 287.5V486.4" stroke="#202020" stroke-opacity="0.125" stroke-width="0.65" fill="none"/>
<clipPath id="c4"><rect x="343.3" y="287.5" width="199.2" height="198.9"/></clipPath>
<g clip-path="url(#c4)" fill="none" stroke-width="2.1" stroke-linejoin="round" stroke-linecap="butt">
<path d="M415.1 413.24L418.11 410.91L421.12 408.57L424.13 406.22L427.14 403.86L430.14 401.48L433.15 399.08L436.16 396.68L439.17 394.26L442.18 391.83L445.19 389.39L448.2 386.93L451.21 384.46L454.21 381.99L457.22 379.52L460.23 377.04L463.24 374.55L466.25 372.05L469.26 369.53L472.27 366.99L475.28 364.42L478.28 361.81L481.29 359.17L484.3 356.49L487.31 353.76L490.32 350.96L493.33 348.1L496.34 345.18L499.35 342.21L502.35 339.21L505.36 336.18L508.37 333.14L511.38 330.09L514.39 327.05L517.4 324.03L520.41 321.02L523.42 318.06L526.42 315.11L529.43 312.16L532.44 309.22L535.45 306.29L538.46 303.36L541.47 300.43" stroke="#0072bd"/>
<path d="M343.3 450.41L346.32 449.34L349.33 448.24L352.35 447.11L355.36 445.96L358.38 444.78L361.4 443.57L364.41 442.33L367.43 441.05L370.45 439.74L373.46 438.39L376.48 437.01L379.49 435.58L382.51 434.11L385.53 432.6L388.54 431.05L391.56 429.45L394.57 427.8L397.59 426.1L400.61 424.36L403.62 422.56L406.64 420.7L409.66 418.79L412.67 416.83L415.69 414.8L418.7 412.72L421.72 410.57L424.74 408.36L427.75 406.09L430.77 403.75L433.78 401.35L436.8 398.89L439.82 396.39L442.83 393.83L445.85 391.23L448.87 388.59L451.88 385.91L454.9 383.19L457.91 380.44L460.93 377.67L463.95 374.87L466.96 372.05L469.98 369.21L472.99 366.35L476.01 363.48L479.03 360.59L482.04 357.67L485.06 354.73L488.07 351.77L491.09 348.78L494.11 345.75L497.12 342.7L500.14 339.61L503.16 336.49L506.17 333.34L509.19 330.14L512.2 326.91L515.22 323.63L518.24 320.29L521.25 316.91L524.27 313.45L527.28 309.93L530.3 306.33L533.32 302.65L536.33 298.88L539.35 295.02L542.37 291.05" stroke="#d95319"/>
<path d="M343.3 450.54L346.32 449.69L349.33 448.79L352.35 447.84L355.36 446.82L358.38 445.75L361.4 444.62L364.41 443.44L367.43 442.2L370.45 440.91L373.46 439.57L376.48 438.18L379.49 436.74L382.51 435.25L385.53 433.71L388.54 432.12L391.56 430.49L394.57 428.81L397.59 427.09L400.61 425.32L403.62 423.51L406.64 421.65L409.66 419.76L412.67 417.82L415.69 415.85L418.7 413.83L421.72 411.78L424.74 409.69L427.75 407.57L430.77 405.41L433.78 403.21L436.8 400.98L439.82 398.72L442.83 396.43L445.85 394.11L448.87 391.75L451.88 389.37L454.9 386.96L457.91 384.52L460.93 382.06L463.95 379.57L466.96 377.05L469.98 374.51L472.99 371.95L476.01 369.37L479.03 366.76L482.04 364.14L485.06 361.49L488.07 358.83L491.09 356.15L494.11 353.45L497.12 350.73L500.14 348L503.16 345.26L506.17 342.5L509.19 339.73L512.2 336.95L515.22 334.16L518.24 331.36L521.25 328.55L524.27 325.73L527.28 322.91L530.3 320.07L533.32 317.24L536.33 314.39L539.35 311.55L542.37 308.7" stroke="#7e2f8e"/>
<path d="M343.3 454.68L346.32 453.44L349.33 452.18L352.35 450.9L355.36 449.6L358.38 448.28L361.4 446.95L364.41 445.59L367.43 444.21L370.45 442.82L373.46 441.4L376.48 439.96L379.49 438.5L382.51 437.01L385.53 435.51L388.54 433.98L391.56 432.43L394.57 430.85L397.59 429.26L400.61 427.64L403.62 425.99L406.64 424.32L409.66 422.62L412.67 420.9L415.69 419.16L418.7 417.39L421.72 415.59L424.74 413.76L427.75 411.91L430.77 410.03L433.78 408.13L436.8 406.19L439.82 404.23L442.83 402.24L445.85 400.22L448.87 398.17L451.88 396.09L454.9 393.98L457.91 391.84L460.93 389.67L463.95 387.47L466.96 385.24L469.98 382.98L472.99 380.69L476.01 378.36L479.03 376L482.04 373.6L485.06 371.16L488.07 368.67L491.09 366.12L494.11 363.52L497.12 360.84L500.14 358.09L503.16 355.27L506.17 352.36L509.19 349.35L512.2 346.26L515.22 343.06L518.24 339.75L521.25 336.33L524.27 332.79L527.28 329.13L530.3 325.33L533.32 321.4L536.33 317.33L539.35 313.11L542.37 308.73" stroke="#77ac30"/>
<path d="M343.3 452.59L346.32 451.36L349.33 450.12L352.35 448.85L355.36 447.58L358.38 446.29L361.4 444.99L364.41 443.66L367.43 442.33L370.45 440.97L373.46 439.6L376.48 438.21L379.49 436.8L382.51 435.37L385.53 433.92L388.54 432.46L391.56 430.97L394.57 429.46L397.59 427.93L400.61 426.37L403.62 424.8L406.64 423.2L409.66 421.57L412.67 419.93L415.69 418.25L418.7 416.56L421.72 414.83L424.74 413.08L427.75 411.31L430.77 409.5L433.78 407.67L436.8 405.81L439.82 403.92L442.83 402L445.85 400.05L448.87 398.07L451.88 396.06L454.9 394.02L457.91 391.94L460.93 389.84L463.95 387.7L466.96 385.52L469.98 383.32L472.99 381.07L476.01 378.8L479.03 376.48L482.04 374.13L485.06 371.75L488.07 369.32L491.09 366.86L494.11 364.36L497.12 361.82L500.14 359.25L503.16 356.63L506.17 353.97L509.19 351.27L512.2 348.53L515.22 345.75L518.24 342.92L521.25 340.06L524.27 337.14L527.28 334.19L530.3 331.19L533.32 328.14L536.33 325.05L539.35 321.92L542.37 318.73" stroke="#a2142f"/>
</g>
<rect x="343.3" y="287.5" width="199.2" height="198.9" fill="none" stroke="#3c3c3c" stroke-width="0.9"/>
<path d="M354.02 486.4v-1.1M354.02 287.5v1.1M360.29 486.4v-1.1M360.29 287.5v1.1M364.73 486.4v-1.1M364.73 287.5v1.1M368.18 486.4v-1.1M368.18 287.5v1.1M371 486.4v-1.1M371 287.5v1.1M373.39 486.4v-1.1M373.39 287.5v1.1M375.45 486.4v-1.1M375.45 287.5v1.1M377.27 486.4v-1.1M377.27 287.5v1.1M378.9 486.4v-2.2M378.9 287.5v2.2M389.62 486.4v-1.1M389.62 287.5v1.1M395.89 486.4v-1.1M395.89 287.5v1.1M400.33 486.4v-1.1M400.33 287.5v1.1M403.78 486.4v-1.1M403.78 287.5v1.1M406.6 486.4v-1.1M406.6 287.5v1.1M408.99 486.4v-1.1M408.99 287.5v1.1M411.05 486.4v-1.1M411.05 287.5v1.1M412.87 486.4v-1.1M412.87 287.5v1.1M414.5 486.4v-2.2M414.5 287.5v2.2M425.22 486.4v-1.1M425.22 287.5v1.1M431.49 486.4v-1.1M431.49 287.5v1.1M435.93 486.4v-1.1M435.93 287.5v1.1M439.38 486.4v-1.1M439.38 287.5v1.1M442.2 486.4v-1.1M442.2 287.5v1.1M444.59 486.4v-1.1M444.59 287.5v1.1M446.65 486.4v-1.1M446.65 287.5v1.1M448.47 486.4v-1.1M448.47 287.5v1.1M450.1 486.4v-2.2M450.1 287.5v2.2M460.82 486.4v-1.1M460.82 287.5v1.1M467.09 486.4v-1.1M467.09 287.5v1.1M471.53 486.4v-1.1M471.53 287.5v1.1M474.98 486.4v-1.1M474.98 287.5v1.1M477.8 486.4v-1.1M477.8 287.5v1.1M480.19 486.4v-1.1M480.19 287.5v1.1M482.25 486.4v-1.1M482.25 287.5v1.1M484.07 486.4v-1.1M484.07 287.5v1.1M485.7 486.4v-2.2M485.7 287.5v2.2M496.42 486.4v-1.1M496.42 287.5v1.1M502.69 486.4v-1.1M502.69 287.5v1.1M507.13 486.4v-1.1M507.13 287.5v1.1M510.58 486.4v-1.1M510.58 287.5v1.1M513.4 486.4v-1.1M513.4 287.5v1.1M515.79 486.4v-1.1M515.79 287.5v1.1M517.85 486.4v-1.1M517.85 287.5v1.1M519.67 486.4v-1.1M519.67 287.5v1.1M521.3 486.4v-2.2M521.3 287.5v2.2M532.02 486.4v-1.1M532.02 287.5v1.1M538.29 486.4v-1.1M538.29 287.5v1.1M343.3 479.77h1.1M542.5 479.77h-1.1M343.3 473.14h1.1M542.5 473.14h-1.1M343.3 466.51h1.1M542.5 466.51h-1.1M343.3 459.88h1.1M542.5 459.88h-1.1M343.3 453.25h2.2M542.5 453.25h-2.2M343.3 446.62h1.1M542.5 446.62h-1.1M343.3 439.99h1.1M542.5 439.99h-1.1M343.3 433.36h1.1M542.5 433.36h-1.1M343.3 426.73h1.1M542.5 426.73h-1.1M343.3 420.1h2.2M542.5 420.1h-2.2M343.3 413.47h1.1M542.5 413.47h-1.1M343.3 406.84h1.1M542.5 406.84h-1.1M343.3 400.21h1.1M542.5 400.21h-1.1M343.3 393.58h1.1M542.5 393.58h-1.1M343.3 386.95h2.2M542.5 386.95h-2.2M343.3 380.32h1.1M542.5 380.32h-1.1M343.3 373.69h1.1M542.5 373.69h-1.1M343.3 367.06h1.1M542.5 367.06h-1.1M343.3 360.43h1.1M542.5 360.43h-1.1M343.3 353.8h2.2M542.5 353.8h-2.2M343.3 347.17h1.1M542.5 347.17h-1.1M343.3 340.54h1.1M542.5 340.54h-1.1M343.3 333.91h1.1M542.5 333.91h-1.1M343.3 327.28h1.1M542.5 327.28h-1.1M343.3 320.65h2.2M542.5 320.65h-2.2M343.3 314.02h1.1M542.5 314.02h-1.1M343.3 307.39h1.1M542.5 307.39h-1.1M343.3 300.76h1.1M542.5 300.76h-1.1M343.3 294.13h1.1M542.5 294.13h-1.1" stroke="#3c3c3c" stroke-width="0.9" fill="none"/>
<g font-size="13.3" fill="#262626">
<text x="338.1" y="489.7" text-anchor="end" textLength="12.9" lengthAdjust="spacingAndGlyphs">60</text>
<text x="338.1" y="456.55" text-anchor="end" textLength="12.9" lengthAdjust="spacingAndGlyphs">70</text>
<text x="338.1" y="423.4" text-anchor="end" textLength="12.9" lengthAdjust="spacingAndGlyphs">80</text>
<text x="338.1" y="390.25" text-anchor="end" textLength="12.9" lengthAdjust="spacingAndGlyphs">90</text>
<text x="338.1" y="357.1" text-anchor="end" textLength="19.35" lengthAdjust="spacingAndGlyphs">100</text>
<text x="338.1" y="323.95" text-anchor="end" textLength="19.35" lengthAdjust="spacingAndGlyphs">110</text>
<text x="338.1" y="290.8" text-anchor="end" textLength="19.35" lengthAdjust="spacingAndGlyphs">120</text>
<text x="347.6" y="503.3" text-anchor="end" font-size="13.5" textLength="12.9" lengthAdjust="spacingAndGlyphs">10</text>
<text x="347.8" y="497.8" font-size="9.2">0</text>
<text x="418.8" y="503.3" text-anchor="end" font-size="13.5" textLength="12.9" lengthAdjust="spacingAndGlyphs">10</text>
<text x="419" y="497.8" font-size="9.2">2</text>
<text x="490" y="503.3" text-anchor="end" font-size="13.5" textLength="12.9" lengthAdjust="spacingAndGlyphs">10</text>
<text x="490.2" y="497.8" font-size="9.2">4</text>
</g>
<text x="442.9" y="281.6" text-anchor="middle" font-size="15.3" fill="#262626" textLength="116.4" lengthAdjust="spacingAndGlyphs">G-002-II (R=0.29)</text>
</g>
<g>
<rect x="55.4" y="548.8" width="199.4" height="198.5" fill="#ffffff"/>
<path d="M55.4 741.63H254.8M55.4 735.96H254.8M55.4 730.29H254.8M55.4 724.61H254.8M55.4 718.94H254.8M55.4 713.27H254.8M55.4 707.6H254.8M55.4 701.93H254.8M55.4 696.26H254.8M55.4 690.59H254.8M55.4 684.91H254.8M55.4 679.24H254.8M55.4 673.57H254.8M55.4 667.9H254.8M55.4 662.23H254.8M55.4 656.56H254.8M55.4 650.89H254.8M55.4 645.21H254.8M55.4 639.54H254.8M55.4 633.87H254.8M55.4 628.2H254.8M55.4 622.53H254.8M55.4 616.86H254.8M55.4 611.19H254.8M55.4 605.51H254.8M55.4 599.84H254.8M55.4 594.17H254.8M55.4 588.5H254.8M55.4 582.83H254.8M55.4 577.16H254.8M55.4 571.49H254.8M55.4 565.81H254.8M55.4 560.14H254.8M55.4 554.47H254.8" stroke="#202020" stroke-opacity="0.125" stroke-width="0.65" fill="none"/>
<path d="M66.15 548.8V747.3M72.43 548.8V747.3M76.89 548.8V747.3M80.35 548.8V747.3M83.18 548.8V747.3M85.57 548.8V747.3M87.64 548.8V747.3M89.47 548.8V747.3M91.1 548.8V747.3M101.85 548.8V747.3M108.13 548.8V747.3M112.59 548.8V747.3M116.05 548.8V747.3M118.88 548.8V747.3M121.27 548.8V747.3M123.34 548.8V747.3M125.17 548.8V747.3M126.8 548.8V747.3M137.55 548.8V747.3M143.83 548.8V747.3M148.29 548.8V747.3M151.75 548.8V747.3M154.58 548.8V747.3M156.97 548.8V747.3M159.04 548.8V747.3M160.87 548.8V747.3M162.5 548.8V747.3M173.25 548.8V747.3M179.53 548.8V747.3M183.99 548.8V747.3M187.45 548.8V747.3M190.28 548.8V747.3M192.67 548.8V747.3M194.74 548.8V747.3M196.57 548.8V747.3M198.2 548.8V747.3M208.95 548.8V747.3M215.23 548.8V747.3M219.69 548.8V747.3M223.15 548.8V747.3M225.98 548.8V747.3M228.37 548.8V747.3M230.44 548.8V747.3M232.27 548.8V747.3M233.9 548.8V747.3M244.65 548.8V747.3M250.93 548.8V747.3" stroke="#202020" stroke-opacity="0.125" stroke-width="0.65" fill="none"/>
<clipPath id="c5"><rect x="55.4" y="548.8" width="199.4" height="198.5"/></clipPath>
<g clip-path="url(#c5)" fill="none" stroke-width="2.1" stroke-linejoin="round" stroke-linecap="butt">
<path d="M127.2 683.5L130.21 681.38L133.22 679.24L136.23 677.1L139.24 674.94L142.24 672.77L145.25 670.59L148.26 668.39L151.27 666.19L154.28 663.97L157.29 661.74L160.3 659.5L163.31 657.25L166.31 655L169.32 652.73L172.33 650.46L175.34 648.18L178.35 645.88L181.36 643.57L184.37 641.24L187.38 638.9L190.38 636.53L193.39 634.14L196.4 631.73L199.41 629.28L202.42 626.83L205.43 624.36L208.44 621.87L211.45 619.37L214.45 616.85L217.46 614.29L220.47 611.7L223.48 609.08L226.49 606.41L229.5 603.7L232.51 600.94L235.52 598.13L238.52 595.23L241.53 592.25L244.54 589.2L247.55 586.08L250.56 582.92L253.57 579.71" stroke="#0072bd"/>
<path d="M55.4 724.05L58.42 723.24L61.43 722.38L64.45 721.46L67.46 720.48L70.48 719.45L73.5 718.37L76.51 717.23L79.53 716.03L82.55 714.78L85.56 713.47L88.58 712.11L91.59 710.69L94.61 709.22L97.63 707.7L100.64 706.13L103.66 704.5L106.67 702.82L109.69 701.08L112.71 699.3L115.72 697.46L118.74 695.57L121.76 693.63L124.77 691.63L127.79 689.59L130.8 687.5L133.82 685.35L136.84 683.16L139.85 680.91L142.87 678.62L145.88 676.27L148.9 673.88L151.92 671.44L154.93 668.95L157.95 666.41L160.97 663.83L163.98 661.19L167 658.51L170.01 655.78L173.03 653.01L176.05 650.18L179.06 647.32L182.08 644.4L185.09 641.44L188.11 638.43L191.13 635.38L194.14 632.28L197.16 629.14L200.17 625.96L203.19 622.73L206.21 619.45L209.22 616.13L212.24 612.77L215.26 609.36L218.27 605.92L221.29 602.42L224.3 598.89L227.32 595.32L230.34 591.7L233.35 588.04L236.37 584.34L239.38 580.6L242.4 576.81L245.42 572.99L248.43 569.13L251.45 565.22L254.47 561.28" stroke="#d95319"/>
<path d="M55.4 723.18L58.42 722.54L61.43 721.83L64.45 721.05L67.46 720.2L70.48 719.28L73.5 718.29L76.51 717.24L79.53 716.12L82.55 714.93L85.56 713.69L88.58 712.38L91.59 711.02L94.61 709.6L97.63 708.12L100.64 706.59L103.66 705L106.67 703.36L109.69 701.67L112.71 699.94L115.72 698.15L118.74 696.32L121.76 694.44L124.77 692.52L127.79 690.56L130.8 688.56L133.82 686.51L136.84 684.44L139.85 682.32L142.87 680.17L145.88 677.99L148.9 675.77L151.92 673.52L154.93 671.25L157.95 668.95L160.97 666.62L163.98 664.26L167 661.89L170.01 659.49L173.03 657.07L176.05 654.63L179.06 652.17L182.08 649.7L185.09 647.21L188.11 644.72L191.13 642.21L194.14 639.7L197.16 637.19L200.17 634.68L203.19 632.17L206.21 629.66L209.22 627.15L212.24 624.65L215.26 622.15L218.27 619.65L221.29 617.15L224.3 614.66L227.32 612.17L230.34 609.68L233.35 607.18L236.37 604.68L239.38 602.17L242.4 599.66L245.42 597.13L248.43 594.58L251.45 592.02L254.47 589.44" stroke="#7e2f8e"/>
<path d="M55.4 724.65L58.42 723.73L61.43 722.76L64.45 721.75L67.46 720.7L70.48 719.6L73.5 718.46L76.51 717.27L79.53 716.05L82.55 714.78L85.56 713.48L88.58 712.13L91.59 710.75L94.61 709.33L97.63 707.87L100.64 706.38L103.66 704.85L106.67 703.29L109.69 701.69L112.71 700.06L115.72 698.4L118.74 696.71L121.76 694.98L124.77 693.23L127.79 691.44L130.8 689.63L133.82 687.79L136.84 685.92L139.85 684.02L142.87 682.1L145.88 680.15L148.9 678.18L151.92 676.19L154.93 674.17L157.95 672.13L160.97 670.07L163.98 667.98L167 665.88L170.01 663.76L173.03 661.62L176.05 659.46L179.06 657.28L182.08 655.09L185.09 652.88L188.11 650.65L191.13 648.41L194.14 646.15L197.16 643.86L200.17 641.53L203.19 639.15L206.21 636.71L209.22 634.2L212.24 631.63L215.26 628.96L218.27 626.21L221.29 623.36L224.3 620.4L227.32 617.32L230.34 614.12L233.35 610.78L236.37 607.3L239.38 603.67L242.4 599.88L245.42 595.91L248.43 591.78L251.45 587.45L254.47 582.93" stroke="#77ac30"/>
<path d="M55.4 724.93L58.42 723.96L61.43 722.95L64.45 721.91L67.46 720.84L70.48 719.73L73.5 718.59L76.51 717.42L79.53 716.22L82.55 714.98L85.56 713.72L88.58 712.42L91.59 711.09L94.61 709.73L97.63 708.33L100.64 706.91L103.66 705.46L106.67 703.98L109.69 702.46L112.71 700.92L115.72 699.35L118.74 697.75L121.76 696.12L124.77 694.46L127.79 692.77L130.8 691.05L133.82 689.31L136.84 687.53L139.85 685.73L142.87 683.9L145.88 682.05L148.9 680.16L151.92 678.25L154.93 676.32L157.95 674.35L160.97 672.36L163.98 670.35L167 668.31L170.01 666.24L173.03 664.14L176.05 662.03L179.06 659.88L182.08 657.71L185.09 655.52L188.11 653.3L191.13 651.06L194.14 648.8L197.16 646.51L200.17 644.2L203.19 641.86L206.21 639.5L209.22 637.12L212.24 634.72L215.26 632.29L218.27 629.84L221.29 627.37L224.3 624.88L227.32 622.36L230.34 619.82L233.35 617.27L236.37 614.69L239.38 612.09L242.4 609.47L245.42 606.83L248.43 604.17L251.45 601.49L254.47 598.79" stroke="#a2142f"/>
</g>
<rect x="55.4" y="548.8" width="199.4" height="198.5" fill="none" stroke="#3c3c3c" stroke-width="0.9"/>
<path d="M66.15 747.3v-1.1M66.15 548.8v1.1M72.43 747.3v-1.1M72.43 548.8v1.1M76.89 747.3v-1.1M76.89 548.8v1.1M80.35 747.3v-1.1M80.35 548.8v1.1M83.18 747.3v-1.1M83.18 548.8v1.1M85.57 747.3v-1.1M85.57 548.8v1.1M87.64 747.3v-1.1M87.64 548.8v1.1M89.47 747.3v-1.1M89.47 548.8v1.1M91.1 747.3v-2.2M91.1 548.8v2.2M101.85 747.3v-1.1M101.85 548.8v1.1M108.13 747.3v-1.1M108.13 548.8v1.1M112.59 747.3v-1.1M112.59 548.8v1.1M116.05 747.3v-1.1M116.05 548.8v1.1M118.88 747.3v-1.1M118.88 548.8v1.1M121.27 747.3v-1.1M121.27 548.8v1.1M123.34 747.3v-1.1M123.34 548.8v1.1M125.17 747.3v-1.1M125.17 548.8v1.1M126.8 747.3v-2.2M126.8 548.8v2.2M137.55 747.3v-1.1M137.55 548.8v1.1M143.83 747.3v-1.1M143.83 548.8v1.1M148.29 747.3v-1.1M148.29 548.8v1.1M151.75 747.3v-1.1M151.75 548.8v1.1M154.58 747.3v-1.1M154.58 548.8v1.1M156.97 747.3v-1.1M156.97 548.8v1.1M159.04 747.3v-1.1M159.04 548.8v1.1M160.87 747.3v-1.1M160.87 548.8v1.1M162.5 747.3v-2.2M162.5 548.8v2.2M173.25 747.3v-1.1M173.25 548.8v1.1M179.53 747.3v-1.1M179.53 548.8v1.1M183.99 747.3v-1.1M183.99 548.8v1.1M187.45 747.3v-1.1M187.45 548.8v1.1M190.28 747.3v-1.1M190.28 548.8v1.1M192.67 747.3v-1.1M192.67 548.8v1.1M194.74 747.3v-1.1M194.74 548.8v1.1M196.57 747.3v-1.1M196.57 548.8v1.1M198.2 747.3v-2.2M198.2 548.8v2.2M208.95 747.3v-1.1M208.95 548.8v1.1M215.23 747.3v-1.1M215.23 548.8v1.1M219.69 747.3v-1.1M219.69 548.8v1.1M223.15 747.3v-1.1M223.15 548.8v1.1M225.98 747.3v-1.1M225.98 548.8v1.1M228.37 747.3v-1.1M228.37 548.8v1.1M230.44 747.3v-1.1M230.44 548.8v1.1M232.27 747.3v-1.1M232.27 548.8v1.1M233.9 747.3v-2.2M233.9 548.8v2.2M244.65 747.3v-1.1M244.65 548.8v1.1M250.93 747.3v-1.1M250.93 548.8v1.1M55.4 741.63h1.1M254.8 741.63h-1.1M55.4 735.96h1.1M254.8 735.96h-1.1M55.4 730.29h1.1M254.8 730.29h-1.1M55.4 724.61h1.1M254.8 724.61h-1.1M55.4 718.94h2.2M254.8 718.94h-2.2M55.4 713.27h1.1M254.8 713.27h-1.1M55.4 707.6h1.1M254.8 707.6h-1.1M55.4 701.93h1.1M254.8 701.93h-1.1M55.4 696.26h1.1M254.8 696.26h-1.1M55.4 690.59h2.2M254.8 690.59h-2.2M55.4 684.91h1.1M254.8 684.91h-1.1M55.4 679.24h1.1M254.8 679.24h-1.1M55.4 673.57h1.1M254.8 673.57h-1.1M55.4 667.9h1.1M254.8 667.9h-1.1M55.4 662.23h2.2M254.8 662.23h-2.2M55.4 656.56h1.1M254.8 656.56h-1.1M55.4 650.89h1.1M254.8 650.89h-1.1M55.4 645.21h1.1M254.8 645.21h-1.1M55.4 639.54h1.1M254.8 639.54h-1.1M55.4 633.87h2.2M254.8 633.87h-2.2M55.4 628.2h1.1M254.8 628.2h-1.1M55.4 622.53h1.1M254.8 622.53h-1.1M55.4 616.86h1.1M254.8 616.86h-1.1M55.4 611.19h1.1M254.8 611.19h-1.1M55.4 605.51h2.2M254.8 605.51h-2.2M55.4 599.84h1.1M254.8 599.84h-1.1M55.4 594.17h1.1M254.8 594.17h-1.1M55.4 588.5h1.1M254.8 588.5h-1.1M55.4 582.83h1.1M254.8 582.83h-1.1M55.4 577.16h2.2M254.8 577.16h-2.2M55.4 571.49h1.1M254.8 571.49h-1.1M55.4 565.81h1.1M254.8 565.81h-1.1M55.4 560.14h1.1M254.8 560.14h-1.1M55.4 554.47h1.1M254.8 554.47h-1.1" stroke="#3c3c3c" stroke-width="0.9" fill="none"/>
<g font-size="13.3" fill="#262626">
<text x="50.2" y="750.6" text-anchor="end" textLength="12.9" lengthAdjust="spacingAndGlyphs">50</text>
<text x="50.2" y="722.24" text-anchor="end" textLength="12.9" lengthAdjust="spacingAndGlyphs">60</text>
<text x="50.2" y="693.89" text-anchor="end" textLength="12.9" lengthAdjust="spacingAndGlyphs">70</text>
<text x="50.2" y="665.53" text-anchor="end" textLength="12.9" lengthAdjust="spacingAndGlyphs">80</text>
<text x="50.2" y="637.17" text-anchor="end" textLength="12.9" lengthAdjust="spacingAndGlyphs">90</text>
<text x="50.2" y="608.81" text-anchor="end" textLength="19.35" lengthAdjust="spacingAndGlyphs">100</text>
<text x="50.2" y="580.46" text-anchor="end" textLength="19.35" lengthAdjust="spacingAndGlyphs">110</text>
<text x="50.2" y="552.1" text-anchor="end" textLength="19.35" lengthAdjust="spacingAndGlyphs">120</text>
<text x="59.7" y="764.2" text-anchor="end" font-size="13.5" textLength="12.9" lengthAdjust="spacingAndGlyphs">10</text>
<text x="59.9" y="758.7" font-size="9.2">0</text>
<text x="131.1" y="764.2" text-anchor="end" font-size="13.5" textLength="12.9" lengthAdjust="spacingAndGlyphs">10</text>
<text x="131.3" y="758.7" font-size="9.2">2</text>
<text x="202.5" y="764.2" text-anchor="end" font-size="13.5" textLength="12.9" lengthAdjust="spacingAndGlyphs">10</text>
<text x="202.7" y="758.7" font-size="9.2">4</text>
</g>
<text x="155.1" y="542.9" text-anchor="middle" font-size="15.3" fill="#262626" textLength="123.4" lengthAdjust="spacingAndGlyphs">G-010-II (R=0.036)</text>
</g>
<text x="299.3" y="788.2" text-anchor="middle" font-size="17" fill="#262626" textLength="131" lengthAdjust="spacingAndGlyphs">Number of Cycles</text>
<text transform="translate(18.2 387.4) rotate(-90)" text-anchor="middle" font-size="17" fill="#262626" textLength="143.5" lengthAdjust="spacingAndGlyphs">Crack Length [mm]</text>
<path d="M347.4 613.7H393.6" stroke="#0072bd" stroke-width="2" fill="none"/>
<text x="397.4" y="617" font-size="12.5" fill="#262626" textLength="111" lengthAdjust="spacingAndGlyphs">Pascoe-Zavatta Tests</text>
<path d="M347.4 630.9H393.6" stroke="#d95319" stroke-width="2" fill="none"/>
<text x="397.4" y="634.2" font-size="12.5" fill="#262626" textLength="50.9" lengthAdjust="spacingAndGlyphs">2D model</text>
<path d="M347.4 648.1H393.6" stroke="#7e2f8e" stroke-width="2" fill="none"/>
<text x="397.4" y="651.4" font-size="12.5" fill="#262626" textLength="126" lengthAdjust="spacingAndGlyphs">2D model with adhesive</text>
<path d="M347.4 665.3H393.6" stroke="#77ac30" stroke-width="2" fill="none"/>
<text x="397.4" y="668.6" font-size="12.5" fill="#262626" textLength="50.9" lengthAdjust="spacingAndGlyphs">3D model</text>
<path d="M347.4 682.5H393.6" stroke="#a2142f" stroke-width="2" fill="none"/>
<text x="397.4" y="685.8" font-size="12.5" fill="#262626" textLength="126" lengthAdjust="spacingAndGlyphs">3D model with adhesive</text>
</svg></body></html>
